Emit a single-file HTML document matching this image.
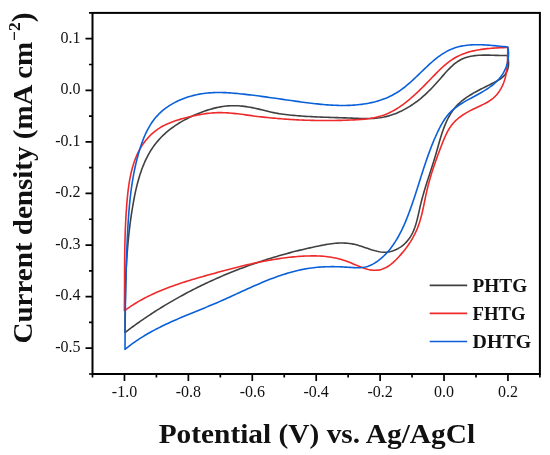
<!DOCTYPE html><html><head><meta charset="utf-8"><style>html,body{margin:0;padding:0;background:#fff;}svg{display:block;}</style></head><body>
<svg width="550" height="455" viewBox="0 0 550 455">
<rect width="550" height="455" fill="#fff"/>
<path d="M125.00,332.50 L126.59,331.28 L128.19,330.08 L129.80,328.88 L131.41,327.68 L133.03,326.50 L134.65,325.32 L136.28,324.15 L137.92,322.99 L139.56,321.83 L141.20,320.69 L142.85,319.55 L144.51,318.41 L146.17,317.29 L147.83,316.17 L149.50,315.06 L151.18,313.96 L152.86,312.87 L154.55,311.78 L156.24,310.70 L157.94,309.63 L159.64,308.57 L161.34,307.51 L163.06,306.46 L164.77,305.42 L166.49,304.39 L168.22,303.36 L169.95,302.34 L171.68,301.33 L173.42,300.33 L175.17,299.34 L176.91,298.35 L178.67,297.37 L180.42,296.40 L182.18,295.43 L183.95,294.47 L185.72,293.52 L187.50,292.58 L189.27,291.65 L191.06,290.72 L192.84,289.80 L194.63,288.89 L196.43,287.99 L198.23,287.09 L200.03,286.20 L201.84,285.32 L203.65,284.45 L205.46,283.58 L207.28,282.73 L209.10,281.88 L210.93,281.03 L212.76,280.20 L214.59,279.37 L216.43,278.55 L218.27,277.74 L220.11,276.94 L221.96,276.14 L223.81,275.35 L225.66,274.57 L227.52,273.80 L229.38,273.03 L231.24,272.27 L233.11,271.52 L234.98,270.78 L236.85,270.05 L238.73,269.32 L240.61,268.60 L242.49,267.89 L244.38,267.18 L246.26,266.49 L248.15,265.80 L250.05,265.12 L251.94,264.45 L253.84,263.78 L255.74,263.12 L257.65,262.47 L259.56,261.83 L261.47,261.20 L263.38,260.57 L265.29,259.95 L267.21,259.34 L269.13,258.74 L271.05,258.14 L272.97,257.55 L274.90,256.97 L276.83,256.40 L278.76,255.83 L280.69,255.28 L282.62,254.73 L284.56,254.19 L286.50,253.65 L288.44,253.13 L290.38,252.61 L292.32,252.10 L294.27,251.60 L296.22,251.10 L298.17,250.62 L300.12,250.14 L302.07,249.67 L304.03,249.20 L305.98,248.75 L307.94,248.30 L309.90,247.86 L311.86,247.43 L313.82,247.00 L315.78,246.58 L317.75,246.18 L319.71,245.78 L321.68,245.39 L323.65,245.01 L325.62,244.65 L327.59,244.32 L329.56,244.02 L331.54,243.75 L333.51,243.51 L335.49,243.32 L337.47,243.17 L339.45,243.06 L341.43,243.02 L343.41,243.03 L345.40,243.10 L347.38,243.24 L349.37,243.45 L351.36,243.73 L353.35,244.09 L355.35,244.54 L357.34,245.06 L359.34,245.65 L361.34,246.28 L363.33,246.95 L365.32,247.64 L367.31,248.33 L369.30,249.01 L371.28,249.67 L373.26,250.28 L375.24,250.84 L377.20,251.32 L379.16,251.72 L381.11,252.02 L383.05,252.21 L384.98,252.26 L386.90,252.16 L388.81,251.92 L390.70,251.53 L392.56,251.01 L394.39,250.35 L396.18,249.57 L397.93,248.67 L399.62,247.65 L401.27,246.54 L402.85,245.32 L404.36,244.02 L405.80,242.62 L407.15,241.15 L408.43,239.61 L409.61,238.00 L410.69,236.33 L411.69,234.61 L412.60,232.83 L413.43,231.01 L414.19,229.15 L414.89,227.26 L415.54,225.33 L416.13,223.38 L416.69,221.40 L417.21,219.40 L417.69,217.40 L418.16,215.38 L418.62,213.36 L419.06,211.34 L419.51,209.32 L419.96,207.32 L420.42,205.33 L420.90,203.35 L421.39,201.39 L421.90,199.45 L422.42,197.51 L422.95,195.59 L423.50,193.68 L424.05,191.78 L424.62,189.88 L425.19,187.99 L425.77,186.11 L426.36,184.24 L426.95,182.36 L427.55,180.49 L428.15,178.62 L428.76,176.75 L429.37,174.88 L429.98,173.01 L430.58,171.13 L431.19,169.25 L431.80,167.37 L432.41,165.47 L433.01,163.57 L433.61,161.66 L434.20,159.74 L434.78,157.81 L435.36,155.87 L435.94,153.91 L436.50,151.94 L437.06,149.96 L437.62,147.98 L438.18,145.98 L438.75,143.99 L439.32,142.00 L439.90,140.00 L440.50,138.02 L441.11,136.04 L441.73,134.07 L442.38,132.11 L443.05,130.17 L443.75,128.25 L444.47,126.35 L445.23,124.47 L446.02,122.62 L446.85,120.79 L447.71,119.00 L448.62,117.24 L449.58,115.51 L450.58,113.82 L451.63,112.18 L452.74,110.58 L453.90,109.02 L455.12,107.51 L456.40,106.06 L457.74,104.65 L459.15,103.30 L460.61,101.99 L462.12,100.73 L463.67,99.51 L465.28,98.33 L466.92,97.19 L468.60,96.08 L470.31,95.01 L472.05,93.96 L473.81,92.93 L475.60,91.93 L477.40,90.96 L479.22,90.00 L481.04,89.05 L482.88,88.12 L484.71,87.19 L486.55,86.28 L488.38,85.37 L490.20,84.46 L492.00,83.55 L493.79,82.64 L495.56,81.71 L497.29,80.77 L498.97,79.79 L500.56,78.74 L502.06,77.61 L503.44,76.38 L504.69,75.03 L505.77,73.54 L506.69,71.92 L507.43,70.17 L508.00,68.31 L508.37,66.35 L508.56,64.30 L508.56,62.18 L508.35,60.00 L507.93,57.77 L507.30,55.50 L507.30,55.50 L505.40,55.53 L503.46,55.53 L501.49,55.51 L499.49,55.46 L497.46,55.40 L495.41,55.33 L493.35,55.26 L491.27,55.19 L489.19,55.14 L487.10,55.10 L485.01,55.10 L482.93,55.12 L480.85,55.18 L478.79,55.28 L476.75,55.44 L474.73,55.65 L472.73,55.93 L470.76,56.28 L468.83,56.70 L466.94,57.21 L465.09,57.81 L463.28,58.50 L461.53,59.30 L459.83,60.20 L458.19,61.20 L456.58,62.29 L455.02,63.47 L453.50,64.72 L452.02,66.03 L450.56,67.40 L449.14,68.82 L447.73,70.29 L446.35,71.79 L444.98,73.31 L443.63,74.85 L442.28,76.40 L440.94,77.96 L439.60,79.50 L438.26,81.03 L436.91,82.55 L435.56,84.05 L434.20,85.54 L432.82,87.00 L431.44,88.45 L430.04,89.88 L428.62,91.29 L427.19,92.68 L425.74,94.05 L424.26,95.40 L422.76,96.72 L421.23,98.02 L419.68,99.29 L418.09,100.54 L416.48,101.77 L414.84,102.96 L413.18,104.12 L411.49,105.25 L409.77,106.35 L408.03,107.41 L406.27,108.43 L404.49,109.41 L402.69,110.35 L400.87,111.25 L399.03,112.10 L397.17,112.90 L395.30,113.66 L393.41,114.36 L391.51,115.01 L389.59,115.61 L387.67,116.15 L385.73,116.63 L383.78,117.06 L381.82,117.42 L379.86,117.72 L377.88,117.97 L375.90,118.17 L373.91,118.33 L371.92,118.44 L369.92,118.52 L367.92,118.56 L365.91,118.58 L363.89,118.56 L361.88,118.53 L359.86,118.47 L357.84,118.41 L355.82,118.33 L353.79,118.25 L351.77,118.16 L349.75,118.07 L347.73,117.99 L345.70,117.92 L343.68,117.85 L341.66,117.78 L339.65,117.71 L337.63,117.64 L335.61,117.58 L333.59,117.52 L331.58,117.45 L329.56,117.39 L327.55,117.32 L325.54,117.25 L323.53,117.18 L321.51,117.11 L319.50,117.03 L317.49,116.95 L315.48,116.86 L313.48,116.77 L311.47,116.67 L309.46,116.56 L307.46,116.45 L305.45,116.33 L303.45,116.20 L301.44,116.06 L299.44,115.91 L297.44,115.75 L295.44,115.57 L293.44,115.39 L291.44,115.19 L289.44,114.98 L287.44,114.76 L285.44,114.52 L283.45,114.26 L281.46,113.98 L279.47,113.68 L277.48,113.35 L275.50,113.00 L273.52,112.61 L271.55,112.20 L269.59,111.75 L267.63,111.29 L265.67,110.81 L263.71,110.32 L261.76,109.83 L259.81,109.36 L257.85,108.90 L255.90,108.46 L253.95,108.04 L251.99,107.64 L250.04,107.28 L248.08,106.94 L246.13,106.64 L244.17,106.38 L242.21,106.15 L240.25,105.96 L238.29,105.82 L236.32,105.72 L234.35,105.68 L232.39,105.68 L230.41,105.74 L228.44,105.86 L226.46,106.03 L224.49,106.25 L222.51,106.53 L220.53,106.86 L218.56,107.23 L216.58,107.65 L214.61,108.12 L212.64,108.62 L210.68,109.17 L208.73,109.75 L206.77,110.37 L204.83,111.03 L202.90,111.72 L200.97,112.44 L199.05,113.18 L197.14,113.96 L195.25,114.76 L193.37,115.58 L191.50,116.44 L189.65,117.33 L187.81,118.24 L185.99,119.18 L184.19,120.15 L182.41,121.15 L180.65,122.17 L178.92,123.23 L177.20,124.31 L175.52,125.43 L173.85,126.57 L172.22,127.74 L170.61,128.94 L169.04,130.18 L167.49,131.44 L165.98,132.73 L164.49,134.06 L163.05,135.41 L161.64,136.79 L160.26,138.21 L158.92,139.66 L157.63,141.14 L156.37,142.65 L155.15,144.19 L153.98,145.76 L152.84,147.36 L151.75,148.99 L150.70,150.66 L149.68,152.34 L148.70,154.06 L147.76,155.80 L146.85,157.56 L145.98,159.34 L145.13,161.15 L144.33,162.98 L143.55,164.83 L142.80,166.69 L142.08,168.58 L141.39,170.48 L140.73,172.40 L140.09,174.33 L139.48,176.27 L138.90,178.23 L138.33,180.19 L137.79,182.17 L137.27,184.16 L136.77,186.15 L136.30,188.15 L135.83,190.16 L135.39,192.17 L134.96,194.19 L134.55,196.21 L134.16,198.23 L133.77,200.25 L133.40,202.27 L133.05,204.28 L132.70,206.30 L132.36,208.31 L132.04,210.32 L131.72,212.33 L131.41,214.34 L131.11,216.34 L130.83,218.34 L130.55,220.34 L130.28,222.34 L130.02,224.33 L129.77,226.32 L129.53,228.32 L129.30,230.31 L129.07,232.29 L128.85,234.28 L128.65,236.27 L128.45,238.25 L128.25,240.24 L128.07,242.22 L127.89,244.20 L127.72,246.19 L127.56,248.17 L127.40,250.15 L127.25,252.13 L127.11,254.11 L126.97,256.09 L126.84,258.07 L126.72,260.05 L126.60,262.04 L126.49,264.02 L126.38,266.00 L126.28,267.98 L126.19,269.97 L126.10,271.95 L126.01,273.94 L125.93,275.93 L125.86,277.91 L125.79,279.90 L125.72,281.90 L125.66,283.89 L125.60,285.88 L125.55,287.88 L125.50,289.88 L125.45,291.88 L125.40,293.88 L125.36,295.89 L125.33,297.89 L125.29,299.90 L125.26,301.92 L125.23,303.93 L125.20,305.95 L125.18,307.97 L125.16,310.00 L125.14,312.02 L125.12,314.05 L125.10,316.09 L125.08,318.13 L125.07,320.17 L125.06,322.21 L125.04,324.26 L125.03,326.32 L125.02,328.37 L125.01,330.43 L125.00,332.50 Z" fill="none" stroke="#404040" stroke-width="1.60" stroke-linejoin="round"/>
<path d="M124.40,310.80 L126.02,309.60 L127.66,308.43 L129.31,307.29 L130.97,306.17 L132.65,305.07 L134.34,304.00 L136.04,302.95 L137.76,301.93 L139.49,300.93 L141.23,299.95 L142.98,298.99 L144.74,298.05 L146.51,297.13 L148.30,296.24 L150.09,295.36 L151.90,294.50 L153.71,293.66 L155.53,292.83 L157.37,292.03 L159.21,291.24 L161.06,290.46 L162.91,289.71 L164.78,288.96 L166.65,288.23 L168.53,287.52 L170.41,286.82 L172.31,286.13 L174.20,285.45 L176.11,284.79 L178.02,284.14 L179.93,283.49 L181.85,282.86 L183.77,282.24 L185.70,281.63 L187.63,281.02 L189.56,280.42 L191.50,279.83 L193.44,279.25 L195.38,278.67 L197.32,278.10 L199.27,277.54 L201.22,276.98 L203.16,276.42 L205.11,275.87 L207.06,275.32 L209.01,274.77 L210.96,274.23 L212.91,273.69 L214.86,273.15 L216.81,272.61 L218.75,272.07 L220.70,271.54 L222.65,271.01 L224.60,270.49 L226.55,269.97 L228.49,269.45 L230.44,268.94 L232.39,268.44 L234.34,267.94 L236.29,267.44 L238.24,266.95 L240.19,266.47 L242.14,265.99 L244.10,265.53 L246.05,265.06 L248.01,264.61 L249.96,264.16 L251.92,263.72 L253.88,263.29 L255.83,262.87 L257.79,262.46 L259.76,262.06 L261.72,261.66 L263.68,261.28 L265.65,260.90 L267.62,260.54 L269.59,260.19 L271.56,259.85 L273.53,259.52 L275.51,259.20 L277.49,258.90 L279.47,258.60 L281.45,258.32 L283.43,258.06 L285.42,257.80 L287.41,257.56 L289.40,257.33 L291.40,257.12 L293.39,256.92 L295.39,256.74 L297.40,256.57 L299.40,256.42 L301.41,256.28 L303.42,256.17 L305.43,256.06 L307.45,255.99 L309.47,255.93 L311.48,255.90 L313.50,255.89 L315.52,255.91 L317.53,255.96 L319.55,256.05 L321.56,256.17 L323.58,256.32 L325.59,256.51 L327.59,256.74 L329.60,257.00 L331.60,257.32 L333.60,257.67 L335.59,258.07 L337.57,258.52 L339.56,259.02 L341.53,259.57 L343.50,260.18 L345.46,260.84 L347.42,261.55 L349.36,262.31 L351.30,263.10 L353.24,263.91 L355.16,264.73 L357.08,265.54 L358.99,266.33 L360.89,267.08 L362.79,267.79 L364.67,268.43 L366.55,269.01 L368.42,269.49 L370.29,269.88 L372.14,270.15 L373.99,270.30 L375.83,270.31 L377.66,270.17 L379.48,269.87 L381.29,269.42 L383.07,268.83 L384.82,268.10 L386.54,267.23 L388.22,266.24 L389.86,265.11 L391.46,263.88 L393.01,262.56 L394.53,261.16 L396.02,259.70 L397.47,258.21 L398.90,256.70 L400.30,255.16 L401.66,253.60 L402.99,252.01 L404.29,250.41 L405.56,248.79 L406.78,247.14 L407.97,245.48 L409.12,243.80 L410.23,242.11 L411.29,240.40 L412.32,238.67 L413.29,236.94 L414.22,235.18 L415.11,233.41 L415.95,231.63 L416.75,229.82 L417.51,228.00 L418.22,226.15 L418.88,224.29 L419.51,222.40 L420.10,220.50 L420.65,218.58 L421.18,216.64 L421.68,214.69 L422.15,212.73 L422.61,210.76 L423.05,208.79 L423.47,206.80 L423.89,204.81 L424.30,202.82 L424.71,200.83 L425.11,198.84 L425.53,196.85 L425.95,194.87 L426.38,192.89 L426.82,190.92 L427.28,188.96 L427.76,187.01 L428.26,185.06 L428.77,183.12 L429.30,181.19 L429.84,179.27 L430.40,177.35 L430.97,175.44 L431.55,173.53 L432.15,171.63 L432.76,169.73 L433.39,167.83 L434.02,165.93 L434.67,164.04 L435.33,162.15 L435.99,160.25 L436.67,158.36 L437.36,156.47 L438.05,154.57 L438.76,152.68 L439.47,150.78 L440.18,148.87 L440.91,146.97 L441.64,145.06 L442.38,143.15 L443.14,141.24 L443.91,139.35 L444.72,137.47 L445.55,135.61 L446.42,133.78 L447.34,131.99 L448.30,130.23 L449.32,128.53 L450.40,126.87 L451.55,125.27 L452.77,123.73 L454.06,122.26 L455.43,120.86 L456.87,119.52 L458.37,118.24 L459.93,117.02 L461.54,115.85 L463.21,114.73 L464.92,113.65 L466.66,112.61 L468.45,111.62 L470.26,110.65 L472.10,109.72 L473.96,108.82 L475.83,107.93 L477.70,107.06 L479.57,106.18 L481.43,105.30 L483.27,104.40 L485.07,103.46 L486.84,102.49 L488.56,101.47 L490.23,100.39 L491.83,99.24 L493.36,98.02 L494.81,96.71 L496.17,95.30 L497.45,93.82 L498.64,92.25 L499.75,90.62 L500.78,88.92 L501.73,87.16 L502.59,85.34 L503.38,83.49 L504.08,81.59 L504.71,79.67 L505.26,77.71 L505.73,75.74 L506.14,73.75 L506.49,71.74 L506.78,69.72 L507.01,67.69 L507.21,65.66 L507.36,63.62 L507.48,61.59 L507.56,59.55 L507.63,57.53 L507.68,55.51 L507.71,53.50 L507.74,51.52 L507.77,49.55 L507.80,47.60 L507.60,47.50 L505.60,47.56 L503.59,47.62 L501.58,47.70 L499.55,47.78 L497.53,47.88 L495.50,47.99 L493.46,48.12 L491.43,48.27 L489.41,48.44 L487.38,48.63 L485.36,48.85 L483.35,49.10 L481.34,49.38 L479.35,49.69 L477.37,50.04 L475.40,50.43 L473.45,50.85 L471.51,51.32 L469.59,51.83 L467.70,52.38 L465.82,52.99 L463.97,53.64 L462.14,54.35 L460.34,55.12 L458.56,55.94 L456.82,56.81 L455.11,57.76 L453.43,58.76 L451.78,59.83 L450.16,60.95 L448.57,62.12 L447.00,63.35 L445.46,64.61 L443.94,65.92 L442.44,67.26 L440.96,68.63 L439.49,70.04 L438.03,71.46 L436.59,72.90 L435.16,74.36 L433.73,75.83 L432.31,77.30 L430.89,78.77 L429.47,80.25 L428.05,81.72 L426.63,83.18 L425.20,84.63 L423.77,86.07 L422.34,87.51 L420.90,88.93 L419.45,90.35 L417.99,91.75 L416.52,93.13 L415.03,94.50 L413.54,95.86 L412.03,97.19 L410.50,98.51 L408.96,99.81 L407.40,101.09 L405.82,102.34 L404.23,103.57 L402.61,104.77 L400.98,105.93 L399.33,107.06 L397.65,108.15 L395.96,109.20 L394.25,110.20 L392.52,111.16 L390.76,112.07 L388.99,112.93 L387.19,113.73 L385.37,114.47 L383.52,115.16 L381.66,115.78 L379.77,116.35 L377.86,116.86 L375.94,117.32 L374.00,117.73 L372.04,118.09 L370.07,118.42 L368.08,118.70 L366.09,118.95 L364.08,119.17 L362.07,119.36 L360.05,119.52 L358.02,119.66 L355.99,119.78 L353.96,119.89 L351.92,119.98 L349.89,120.06 L347.85,120.14 L345.82,120.21 L343.79,120.27 L341.76,120.33 L339.74,120.38 L337.71,120.42 L335.69,120.45 L333.66,120.48 L331.64,120.51 L329.62,120.52 L327.60,120.53 L325.58,120.53 L323.57,120.53 L321.55,120.52 L319.54,120.50 L317.52,120.47 L315.51,120.44 L313.50,120.40 L311.49,120.35 L309.48,120.30 L307.47,120.24 L305.46,120.18 L303.45,120.10 L301.45,120.02 L299.44,119.93 L297.44,119.84 L295.43,119.73 L293.43,119.63 L291.43,119.51 L289.43,119.39 L287.43,119.26 L285.43,119.12 L283.43,118.97 L281.43,118.82 L279.43,118.66 L277.44,118.49 L275.44,118.32 L273.44,118.14 L271.45,117.95 L269.45,117.76 L267.46,117.55 L265.46,117.34 L263.47,117.13 L261.48,116.90 L259.48,116.67 L257.49,116.43 L255.50,116.18 L253.51,115.93 L251.51,115.66 L249.52,115.40 L247.53,115.12 L245.54,114.85 L243.55,114.58 L241.56,114.32 L239.57,114.06 L237.58,113.82 L235.59,113.59 L233.60,113.37 L231.60,113.18 L229.61,113.01 L227.62,112.87 L225.63,112.76 L223.64,112.68 L221.65,112.63 L219.66,112.63 L217.66,112.67 L215.67,112.74 L213.68,112.85 L211.69,113.00 L209.69,113.19 L207.70,113.41 L205.71,113.66 L203.72,113.95 L201.73,114.26 L199.74,114.61 L197.75,114.98 L195.76,115.38 L193.78,115.80 L191.79,116.25 L189.81,116.72 L187.83,117.21 L185.84,117.72 L183.87,118.25 L181.89,118.80 L179.92,119.37 L177.96,119.97 L176.01,120.59 L174.08,121.25 L172.16,121.95 L170.27,122.68 L168.40,123.45 L166.55,124.27 L164.74,125.14 L162.95,126.06 L161.20,127.04 L159.49,128.07 L157.82,129.17 L156.19,130.33 L154.61,131.55 L153.07,132.82 L151.58,134.15 L150.15,135.53 L148.76,136.95 L147.42,138.42 L146.14,139.92 L144.92,141.46 L143.75,143.04 L142.63,144.65 L141.56,146.29 L140.55,147.97 L139.58,149.67 L138.67,151.40 L137.80,153.16 L136.97,154.94 L136.19,156.75 L135.45,158.58 L134.75,160.44 L134.09,162.31 L133.46,164.21 L132.88,166.12 L132.33,168.05 L131.81,170.00 L131.32,171.97 L130.87,173.94 L130.44,175.94 L130.04,177.94 L129.67,179.95 L129.33,181.97 L129.01,184.00 L128.71,186.04 L128.43,188.08 L128.17,190.13 L127.92,192.18 L127.70,194.23 L127.49,196.28 L127.29,198.34 L127.11,200.39 L126.93,202.44 L126.77,204.48 L126.61,206.52 L126.47,208.56 L126.33,210.59 L126.19,212.61 L126.07,214.63 L125.95,216.65 L125.83,218.66 L125.73,220.67 L125.63,222.67 L125.53,224.68 L125.45,226.68 L125.36,228.67 L125.29,230.66 L125.22,232.66 L125.15,234.64 L125.09,236.63 L125.03,238.62 L124.98,240.60 L124.93,242.58 L124.89,244.56 L124.85,246.54 L124.81,248.52 L124.78,250.50 L124.75,252.48 L124.72,254.46 L124.70,256.44 L124.68,258.42 L124.66,260.40 L124.64,262.38 L124.63,264.37 L124.61,266.35 L124.60,268.34 L124.59,270.32 L124.58,272.31 L124.58,274.31 L124.57,276.30 L124.57,278.30 L124.56,280.30 L124.56,282.30 L124.55,284.31 L124.55,286.32 L124.54,288.33 L124.53,290.35 L124.53,292.37 L124.52,294.40 L124.51,296.43 L124.50,298.47 L124.49,300.51 L124.48,302.55 L124.46,304.61 L124.44,306.67 L124.42,308.73 L124.40,310.80 Z" fill="none" stroke="#ee2a2a" stroke-width="1.60" stroke-linejoin="round"/>
<path d="M125.00,349.40 L126.58,348.11 L128.17,346.85 L129.77,345.61 L131.39,344.40 L133.01,343.21 L134.65,342.05 L136.30,340.91 L137.97,339.79 L139.64,338.69 L141.32,337.61 L143.02,336.56 L144.72,335.52 L146.43,334.50 L148.16,333.50 L149.89,332.51 L151.63,331.55 L153.38,330.60 L155.13,329.66 L156.90,328.74 L158.67,327.84 L160.45,326.94 L162.24,326.07 L164.03,325.20 L165.83,324.34 L167.64,323.50 L169.45,322.66 L171.27,321.84 L173.09,321.02 L174.92,320.22 L176.75,319.42 L178.58,318.62 L180.42,317.84 L182.27,317.06 L184.12,316.28 L185.97,315.51 L187.82,314.74 L189.67,313.98 L191.53,313.21 L193.39,312.45 L195.25,311.69 L197.11,310.93 L198.98,310.17 L200.84,309.41 L202.71,308.65 L204.57,307.89 L206.43,307.12 L208.30,306.35 L210.16,305.57 L212.02,304.80 L213.88,304.01 L215.74,303.22 L217.60,302.42 L219.45,301.61 L221.30,300.80 L223.15,299.98 L225.00,299.16 L226.85,298.33 L228.69,297.49 L230.53,296.65 L232.37,295.81 L234.22,294.97 L236.06,294.13 L237.90,293.28 L239.74,292.44 L241.58,291.60 L243.41,290.75 L245.25,289.92 L247.10,289.08 L248.94,288.25 L250.78,287.42 L252.62,286.60 L254.47,285.79 L256.31,284.98 L258.16,284.18 L260.01,283.39 L261.86,282.60 L263.72,281.83 L265.57,281.07 L267.43,280.32 L269.30,279.58 L271.16,278.86 L273.03,278.15 L274.91,277.45 L276.78,276.77 L278.66,276.10 L280.55,275.46 L282.44,274.83 L284.33,274.21 L286.23,273.62 L288.13,273.05 L290.04,272.49 L291.96,271.96 L293.88,271.45 L295.80,270.97 L297.74,270.50 L299.67,270.07 L301.62,269.65 L303.57,269.26 L305.53,268.90 L307.50,268.57 L309.47,268.26 L311.45,267.99 L313.43,267.74 L315.43,267.52 L317.43,267.32 L319.43,267.15 L321.44,267.01 L323.46,266.89 L325.48,266.80 L327.50,266.73 L329.52,266.69 L331.55,266.67 L333.59,266.67 L335.62,266.69 L337.65,266.74 L339.69,266.80 L341.73,266.89 L343.76,266.99 L345.80,267.12 L347.84,267.26 L349.87,267.41 L351.89,267.54 L353.91,267.65 L355.92,267.72 L357.90,267.73 L359.88,267.68 L361.83,267.54 L363.75,267.30 L365.65,266.95 L367.52,266.47 L369.36,265.85 L371.16,265.08 L372.92,264.16 L374.64,263.14 L376.31,262.03 L377.94,260.87 L379.52,259.66 L381.05,258.40 L382.54,257.10 L383.98,255.75 L385.38,254.36 L386.73,252.93 L388.05,251.46 L389.33,249.95 L390.57,248.40 L391.77,246.83 L392.93,245.22 L394.06,243.57 L395.16,241.90 L396.22,240.20 L397.26,238.48 L398.26,236.73 L399.23,234.96 L400.18,233.17 L401.10,231.36 L401.99,229.53 L402.86,227.68 L403.71,225.82 L404.54,223.95 L405.34,222.07 L406.13,220.18 L406.89,218.28 L407.64,216.38 L408.38,214.47 L409.09,212.56 L409.80,210.65 L410.49,208.74 L411.17,206.83 L411.84,204.92 L412.50,203.01 L413.15,201.10 L413.79,199.19 L414.43,197.29 L415.05,195.38 L415.67,193.48 L416.29,191.57 L416.90,189.67 L417.51,187.76 L418.11,185.86 L418.71,183.96 L419.31,182.06 L419.91,180.16 L420.51,178.26 L421.11,176.37 L421.71,174.47 L422.32,172.58 L422.93,170.69 L423.54,168.80 L424.16,166.91 L424.78,165.02 L425.41,163.14 L426.05,161.25 L426.70,159.37 L427.35,157.49 L428.02,155.61 L428.69,153.74 L429.38,151.86 L430.08,149.99 L430.79,148.12 L431.51,146.25 L432.26,144.39 L433.01,142.52 L433.78,140.66 L434.57,138.80 L435.38,136.95 L436.20,135.09 L437.05,133.24 L437.92,131.40 L438.81,129.56 L439.72,127.74 L440.67,125.93 L441.65,124.15 L442.67,122.40 L443.73,120.69 L444.83,119.02 L445.98,117.39 L447.18,115.82 L448.44,114.30 L449.75,112.85 L451.12,111.46 L452.55,110.13 L454.03,108.87 L455.56,107.66 L457.14,106.49 L458.76,105.36 L460.42,104.28 L462.12,103.22 L463.84,102.18 L465.59,101.16 L467.37,100.16 L469.16,99.17 L470.96,98.18 L472.78,97.20 L474.59,96.22 L476.41,95.23 L478.22,94.23 L480.02,93.23 L481.81,92.20 L483.57,91.16 L485.31,90.09 L487.03,89.00 L488.71,87.87 L490.35,86.71 L491.95,85.51 L493.50,84.27 L495.00,82.99 L496.44,81.65 L497.82,80.27 L499.13,78.82 L500.38,77.31 L501.55,75.74 L502.63,74.11 L503.64,72.41 L504.56,70.66 L505.39,68.85 L506.13,67.00 L506.78,65.11 L507.32,63.19 L507.77,61.23 L508.11,59.24 L508.35,57.23 L508.47,55.20 L508.48,53.16 L508.37,51.11 L508.15,49.05 L507.80,47.00 L507.80,47.00 L505.92,46.82 L504.01,46.64 L502.08,46.44 L500.11,46.25 L498.13,46.05 L496.12,45.85 L494.10,45.66 L492.06,45.48 L490.01,45.31 L487.95,45.15 L485.89,45.02 L483.81,44.90 L481.74,44.82 L479.66,44.76 L477.59,44.73 L475.52,44.74 L473.46,44.79 L471.41,44.89 L469.37,45.02 L467.35,45.21 L465.34,45.45 L463.36,45.75 L461.40,46.10 L459.46,46.52 L457.55,47.00 L455.67,47.56 L453.82,48.18 L452.01,48.88 L450.23,49.65 L448.48,50.49 L446.75,51.39 L445.06,52.35 L443.39,53.37 L441.74,54.44 L440.12,55.55 L438.52,56.72 L436.93,57.92 L435.37,59.17 L433.82,60.45 L432.28,61.76 L430.75,63.10 L429.24,64.46 L427.73,65.85 L426.23,67.25 L424.74,68.67 L423.25,70.10 L421.77,71.53 L420.28,72.97 L418.79,74.41 L417.31,75.84 L415.81,77.27 L414.31,78.68 L412.80,80.08 L411.29,81.47 L409.76,82.83 L408.22,84.17 L406.67,85.48 L405.09,86.76 L403.51,88.00 L401.90,89.21 L400.27,90.37 L398.62,91.48 L396.94,92.55 L395.24,93.57 L393.52,94.53 L391.78,95.45 L390.01,96.32 L388.22,97.15 L386.42,97.93 L384.59,98.66 L382.75,99.35 L380.90,100.00 L379.02,100.61 L377.14,101.17 L375.24,101.70 L373.33,102.18 L371.41,102.63 L369.47,103.04 L367.53,103.42 L365.58,103.76 L363.63,104.07 L361.66,104.34 L359.69,104.58 L357.71,104.79 L355.72,104.97 L353.73,105.12 L351.73,105.24 L349.72,105.34 L347.71,105.40 L345.70,105.45 L343.68,105.46 L341.66,105.46 L339.63,105.43 L337.60,105.38 L335.57,105.31 L333.54,105.22 L331.50,105.11 L329.46,104.99 L327.43,104.84 L325.39,104.69 L323.35,104.51 L321.31,104.33 L319.27,104.13 L317.23,103.92 L315.19,103.69 L313.16,103.46 L311.13,103.22 L309.10,102.97 L307.07,102.72 L305.04,102.45 L303.02,102.19 L301.01,101.92 L298.99,101.64 L296.99,101.37 L294.98,101.09 L292.98,100.81 L290.99,100.53 L288.99,100.24 L287.01,99.96 L285.02,99.68 L283.04,99.39 L281.06,99.11 L279.08,98.82 L277.10,98.54 L275.13,98.26 L273.15,97.98 L271.18,97.70 L269.21,97.42 L267.24,97.15 L265.27,96.88 L263.30,96.61 L261.33,96.34 L259.36,96.08 L257.39,95.82 L255.42,95.57 L253.45,95.32 L251.47,95.08 L249.50,94.84 L247.52,94.60 L245.54,94.37 L243.56,94.15 L241.57,93.94 L239.59,93.73 L237.60,93.53 L235.61,93.35 L233.61,93.18 L231.62,93.02 L229.62,92.89 L227.62,92.77 L225.62,92.67 L223.62,92.59 L221.62,92.54 L219.62,92.52 L217.62,92.52 L215.61,92.56 L213.61,92.62 L211.61,92.72 L209.60,92.85 L207.60,93.03 L205.60,93.23 L203.60,93.48 L201.60,93.78 L199.60,94.11 L197.60,94.49 L195.61,94.92 L193.62,95.39 L191.64,95.91 L189.67,96.48 L187.71,97.08 L185.77,97.74 L183.85,98.44 L181.94,99.19 L180.06,99.98 L178.19,100.81 L176.36,101.70 L174.55,102.63 L172.77,103.60 L171.03,104.62 L169.32,105.69 L167.64,106.80 L166.00,107.95 L164.41,109.16 L162.86,110.41 L161.35,111.70 L159.89,113.04 L158.48,114.43 L157.12,115.86 L155.82,117.34 L154.57,118.86 L153.37,120.43 L152.22,122.03 L151.11,123.68 L150.06,125.35 L149.05,127.07 L148.08,128.81 L147.15,130.58 L146.26,132.38 L145.41,134.20 L144.60,136.05 L143.82,137.91 L143.07,139.80 L142.35,141.70 L141.66,143.61 L141.00,145.53 L140.36,147.47 L139.75,149.41 L139.16,151.35 L138.59,153.30 L138.04,155.25 L137.51,157.21 L137.00,159.16 L136.51,161.12 L136.03,163.08 L135.58,165.05 L135.14,167.01 L134.71,168.98 L134.31,170.95 L133.92,172.92 L133.54,174.90 L133.18,176.87 L132.84,178.85 L132.51,180.83 L132.19,182.81 L131.89,184.80 L131.60,186.78 L131.32,188.77 L131.06,190.76 L130.81,192.75 L130.56,194.74 L130.33,196.73 L130.11,198.73 L129.91,200.72 L129.71,202.72 L129.51,204.72 L129.33,206.71 L129.16,208.71 L128.99,210.71 L128.84,212.72 L128.69,214.72 L128.54,216.72 L128.41,218.73 L128.28,220.73 L128.15,222.74 L128.03,224.74 L127.91,226.75 L127.80,228.76 L127.69,230.76 L127.59,232.77 L127.49,234.78 L127.39,236.79 L127.29,238.80 L127.20,240.81 L127.11,242.82 L127.02,244.82 L126.94,246.83 L126.86,248.84 L126.78,250.85 L126.70,252.86 L126.62,254.88 L126.55,256.89 L126.48,258.90 L126.41,260.91 L126.35,262.92 L126.28,264.93 L126.22,266.94 L126.16,268.95 L126.10,270.97 L126.05,272.98 L126.00,274.99 L125.94,277.00 L125.90,279.01 L125.85,281.03 L125.80,283.04 L125.76,285.05 L125.72,287.06 L125.67,289.07 L125.64,291.09 L125.60,293.10 L125.56,295.11 L125.53,297.12 L125.49,299.13 L125.46,301.15 L125.43,303.16 L125.40,305.17 L125.37,307.18 L125.35,309.19 L125.32,311.21 L125.30,313.22 L125.27,315.23 L125.25,317.24 L125.23,319.25 L125.21,321.26 L125.19,323.27 L125.17,325.29 L125.16,327.30 L125.14,329.31 L125.12,331.32 L125.11,333.33 L125.09,335.34 L125.08,337.35 L125.06,339.36 L125.05,341.37 L125.04,343.37 L125.02,345.38 L125.01,347.39 L125.00,349.40 Z" fill="none" stroke="#0a60d8" stroke-width="1.60" stroke-linejoin="round"/>
<g stroke="#000" stroke-width="2" fill="none" stroke-linecap="butt">
<rect x="92.5" y="12.9" width="447.4" height="361.1"/>
<path d="M92.5,12.90H89.0 M92.5,38.69H85.5 M92.5,64.49H89.0 M92.5,90.28H85.5 M92.5,116.07H89.0 M92.5,141.86H85.5 M92.5,167.66H89.0 M92.5,193.45H85.5 M92.5,219.24H89.0 M92.5,245.04H85.5 M92.5,270.83H89.0 M92.5,296.62H85.5 M92.5,322.41H89.0 M92.5,348.21H85.5 M92.5,374.00H89.0 M92.50,374.0V377.5 M124.46,374.0V381.0 M156.41,374.0V377.5 M188.37,374.0V381.0 M220.33,374.0V377.5 M252.29,374.0V381.0 M284.24,374.0V377.5 M316.20,374.0V381.0 M348.16,374.0V377.5 M380.11,374.0V381.0 M412.07,374.0V377.5 M444.03,374.0V381.0 M475.99,374.0V377.5 M507.94,374.0V381.0 M539.90,374.0V377.5" stroke-width="1.7"/>
</g>
<g font-family="Liberation Serif, serif" font-size="16.0" fill="#111">
<text x="80.5" y="42.5" text-anchor="end">0.1</text>
<text x="80.5" y="94.1" text-anchor="end">0.0</text>
<text x="80.5" y="145.7" text-anchor="end">-0.1</text>
<text x="80.5" y="197.3" text-anchor="end">-0.2</text>
<text x="80.5" y="248.8" text-anchor="end">-0.3</text>
<text x="80.5" y="300.4" text-anchor="end">-0.4</text>
<text x="80.5" y="352.0" text-anchor="end">-0.5</text>
<text x="124.5" y="396.9" text-anchor="middle">-1.0</text>
<text x="188.4" y="396.9" text-anchor="middle">-0.8</text>
<text x="252.3" y="396.9" text-anchor="middle">-0.6</text>
<text x="316.2" y="396.9" text-anchor="middle">-0.4</text>
<text x="380.1" y="396.9" text-anchor="middle">-0.2</text>
<text x="444.0" y="396.9" text-anchor="middle">0.0</text>
<text x="507.9" y="396.9" text-anchor="middle">0.2</text>
</g>
<g stroke-width="1.60">
<line x1="429.7" y1="285.4" x2="467.2" y2="285.4" stroke="#404040"/>
<line x1="429.7" y1="313.4" x2="467.2" y2="313.4" stroke="#ee2a2a"/>
<line x1="429.7" y1="341.5" x2="467.2" y2="341.5" stroke="#0a60d8"/>
</g>
<g font-family="Liberation Serif, serif" font-weight="bold" font-size="19.0" fill="#111">
<text x="472.6" y="292.3" textLength="54.6" lengthAdjust="spacingAndGlyphs">PHTG</text>
<text x="472.6" y="320.3" textLength="53.0" lengthAdjust="spacingAndGlyphs">FHTG</text>
<text x="472.6" y="348.4" textLength="58.6" lengthAdjust="spacingAndGlyphs">DHTG</text>
</g>
<text x="158.7" y="442.6" font-family="Liberation Serif, serif" font-weight="bold" font-size="27.0" fill="#111" textLength="316.4" lengthAdjust="spacingAndGlyphs">Potential (V) vs. Ag/AgCl</text>
<g transform="translate(31.8,0) rotate(-90)" font-family="Liberation Serif, serif" font-weight="bold" fill="#111">
<text x="-343.5" y="0" font-size="27.0" textLength="301.8" lengthAdjust="spacingAndGlyphs">Current density (mA cm</text>
<text x="-41.0" y="-12.1" font-size="17.6">&#8722;2</text>
<text x="-22.3" y="0.2" font-size="29.5">)</text>
</g>
</svg></body></html>
